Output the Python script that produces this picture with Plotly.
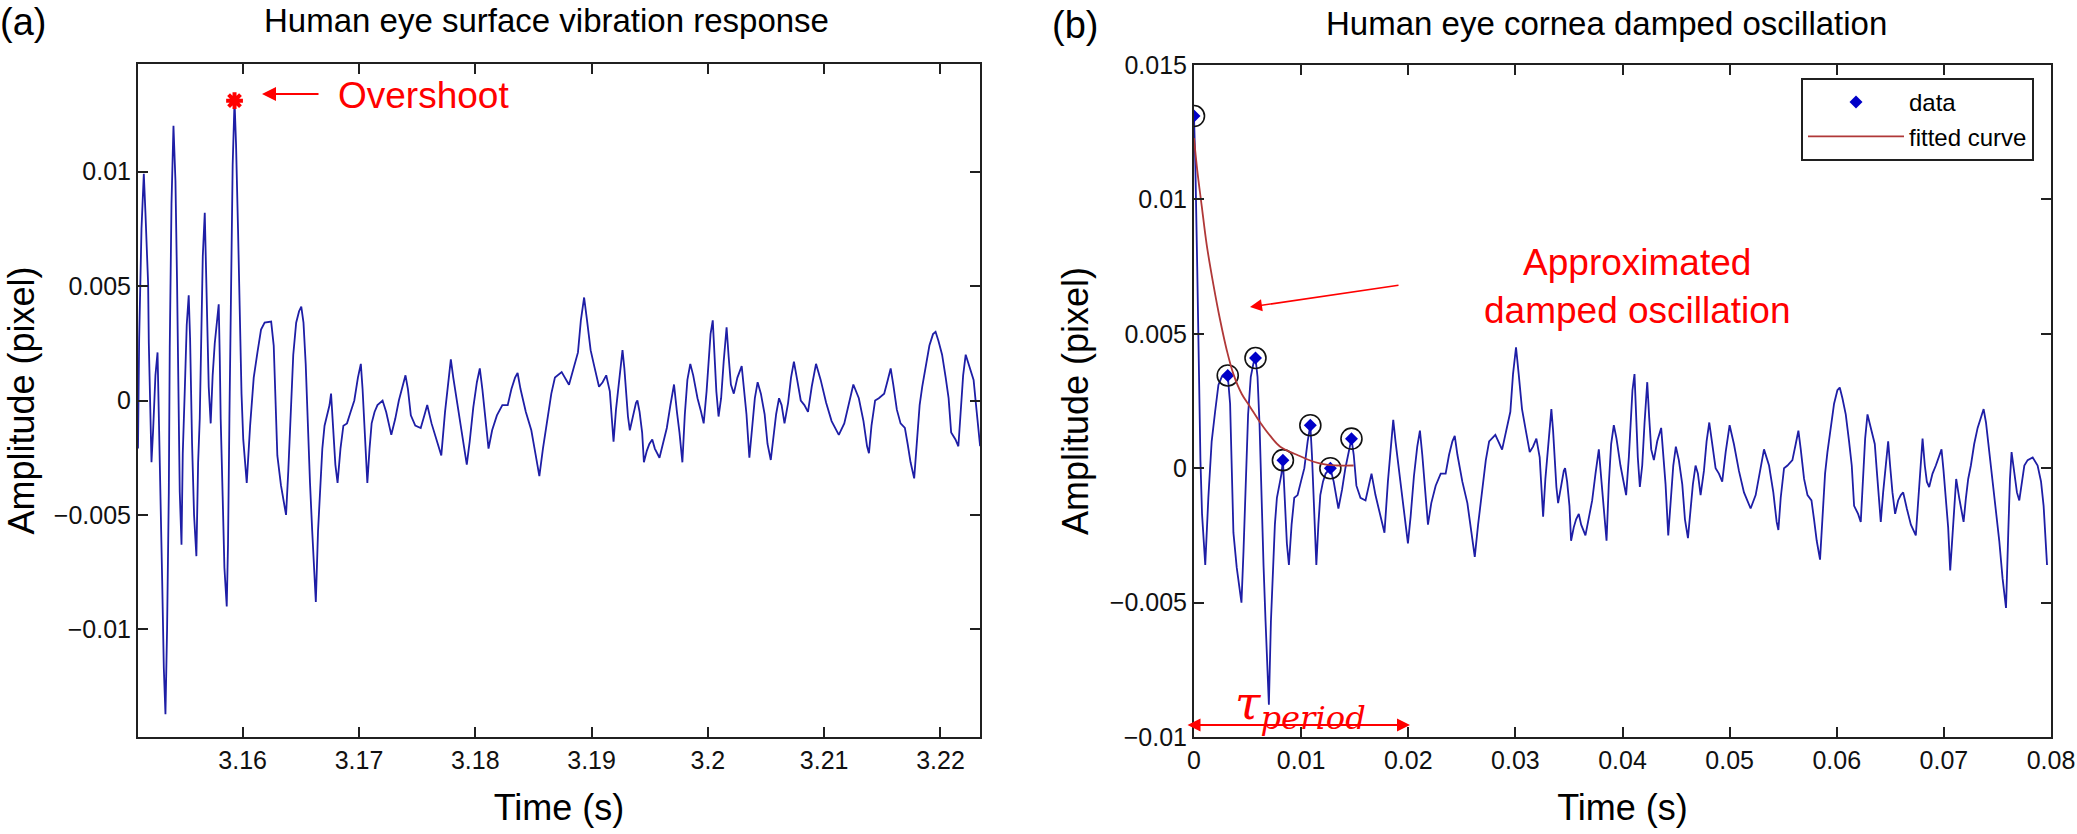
import plotly.graph_objects as go

W, H = 2077, 834

# ---------------- data ----------------
# Panel (a): samples before the overshoot (absolute time, s)
PRE_T = [3.15100, 3.15110, 3.15130, 3.15150, 3.15164, 3.15187, 3.15193, 3.15207, 3.15216,
         3.15230, 3.15250, 3.15268, 3.15279, 3.15293, 3.15308, 3.15322, 3.15336, 3.15350,
         3.15365, 3.15373, 3.15388, 3.15405, 3.15422, 3.15436, 3.15445, 3.15459, 3.15474,
         3.15485, 3.15502, 3.15519, 3.15536, 3.15548, 3.15565, 3.15582, 3.15602, 3.15617,
         3.15631, 3.15645, 3.15657, 3.15674, 3.15685, 3.15697, 3.15708, 3.15725, 3.15742,
         3.15760, 3.15780, 3.15794, 3.15803, 3.15811, 3.15828, 3.15843, 3.15863, 3.15874,
         3.15886, 3.15900, 3.15914]
PRE_Y = [-0.0021, 0.0027, 0.0075, 0.0099, 0.0082, 0.0051, 0.0025, -0.0011, -0.0027,
         -0.0013, 0.0011, 0.0021, -0.0004, -0.0038, -0.0079, -0.0117, -0.0137, -0.0100,
         -0.0040, 0.0023, 0.0086, 0.0120, 0.0096, 0.0051, 0.0004, -0.0040, -0.0063,
         -0.0023, 0.0004, 0.0033, 0.0046, 0.0027, -0.0019, -0.0050, -0.0068, -0.0027,
         -0.0008, 0.0027, 0.0063, 0.0082, 0.0061, 0.0033, 0.0006, -0.0010, 0.0011,
         0.0025, 0.0034, 0.0042, 0.0019, -0.0008, -0.0042, -0.0073, -0.0090, -0.0063,
         -0.0008, 0.0048, 0.0103]

# Time of the overshoot in panel (a) = time zero of panel (b)
T_OVERSHOOT = 3.1593

# Samples from the overshoot onwards (time relative to the overshoot, s)
POST_T = [0.0, 0.00013, 0.0003, 0.00045, 0.0006, 0.00075, 0.0009, 0.00105, 0.00134, 0.00165,
          0.00197, 0.00228, 0.00259, 0.00315, 0.00337, 0.00353, 0.00368, 0.00399, 0.00424, 0.00443,
          0.00462, 0.00484, 0.00505, 0.0053, 0.00555, 0.00574, 0.00593, 0.00612, 0.0063, 0.00649,
          0.00668, 0.00686, 0.00699, 0.00718, 0.00736, 0.00755, 0.00774, 0.00799, 0.00817, 0.0083,
          0.00849, 0.00867, 0.00886, 0.00911, 0.00936, 0.00967, 0.00998, 0.0103, 0.01061, 0.01086,
          0.01101, 0.01123, 0.01142, 0.01161, 0.01179, 0.01204, 0.01229, 0.01273, 0.01304, 0.01348,
          0.01382, 0.01413, 0.01445, 0.0147, 0.01491, 0.01516, 0.01554, 0.01601, 0.01632, 0.01657,
          0.01694, 0.01741, 0.01778, 0.0181, 0.01841, 0.0186, 0.01881, 0.01928, 0.01966, 0.01997,
          0.02022, 0.02053, 0.02084, 0.02109, 0.02131, 0.02162, 0.02184, 0.02215, 0.02256, 0.02303,
          0.02349, 0.02381, 0.02412, 0.02434, 0.02459, 0.02505, 0.02552, 0.0259, 0.02621, 0.02652,
          0.02693, 0.02724, 0.02755, 0.02813, 0.02876, 0.02922, 0.02953, 0.02978, 0.03006, 0.03031,
          0.03062, 0.03093, 0.03134, 0.03165, 0.03196, 0.03227, 0.0324, 0.03259, 0.0328, 0.03302,
          0.03321, 0.03336, 0.03352, 0.03368, 0.03383, 0.03399, 0.03427, 0.03452, 0.03464, 0.03483,
          0.03505, 0.0352, 0.03545, 0.03567, 0.03592, 0.03614, 0.03654, 0.03685, 0.03717, 0.03748,
          0.03779, 0.03804, 0.03826, 0.03851, 0.03872, 0.03894, 0.03919, 0.03944, 0.03981, 0.04012,
          0.04034, 0.04059, 0.04075, 0.04093, 0.04112, 0.04128, 0.04143, 0.04162, 0.04184, 0.04206,
          0.04231, 0.04249, 0.04268, 0.04293, 0.04324, 0.04361, 0.0438, 0.04402, 0.04427, 0.04449,
          0.04474, 0.04498, 0.04526, 0.04558, 0.04583, 0.04611, 0.04636, 0.04657, 0.04682, 0.04704,
          0.04729, 0.0476, 0.04785, 0.0481, 0.04838, 0.04869, 0.049, 0.04931, 0.04963, 0.05,
          0.0504, 0.05087, 0.05134, 0.05196, 0.05243, 0.05283, 0.05321, 0.05368, 0.05408, 0.05439,
          0.05455, 0.05477, 0.05508, 0.0554, 0.05586, 0.05617, 0.05642, 0.05664, 0.05695, 0.05727,
          0.05764, 0.05788, 0.05813, 0.05844, 0.05866, 0.05891, 0.05913, 0.05944, 0.05975, 0.06006,
          0.06028, 0.06053, 0.06084, 0.06115, 0.0614, 0.06162, 0.06199, 0.06224, 0.06243, 0.06265,
          0.06287, 0.06312, 0.06333, 0.06355, 0.06374, 0.06396, 0.06411, 0.06433, 0.06458, 0.0648,
          0.06498, 0.0652, 0.06545, 0.06573, 0.06598, 0.0662, 0.06654, 0.06692, 0.06738, 0.06763,
          0.06785, 0.06801, 0.06822, 0.06841, 0.06863, 0.06894, 0.06925, 0.06956, 0.06978, 0.06997,
          0.07019, 0.0704, 0.07059, 0.07081, 0.07097, 0.07115, 0.07143, 0.07165, 0.07184, 0.07206,
          0.07227, 0.07252, 0.07283, 0.07315, 0.07346, 0.07371, 0.07393, 0.07424, 0.07455, 0.07486,
          0.07517, 0.07548, 0.0758, 0.07601, 0.07617, 0.07632, 0.07657, 0.07682, 0.07704, 0.07726,
          0.07751, 0.07782, 0.07829, 0.07875, 0.07907, 0.07931, 0.07947, 0.07963]
POST_Y = [0.0131, 0.0112, 0.0075, 0.0035, 0.0003, -0.0017, -0.0029, -0.0036, -0.0011, 0.0010,
          0.0021, 0.0031, 0.0034, 0.00345, 0.0024, 0.0000, -0.0024, -0.0037, -0.0044, -0.0050,
          -0.0031, -0.0005, 0.0020, 0.0034, 0.0039, 0.0041, 0.0034, 0.0016, -0.0011, -0.0036,
          -0.0057, -0.0075, -0.0088, -0.0057, -0.0037, -0.0021, -0.0011, -0.0005, -0.0002, 0.0003,
          -0.0011, -0.0028, -0.0036, -0.0021, -0.0011, -0.0010, -0.0005, 0.0000, 0.0010, 0.0016,
          0.0005, -0.0018, -0.0036, -0.0021, -0.0010, -0.0005, -0.0002, 0.0000, -0.0005, -0.0015,
          -0.0008, 0.0000, 0.00065, 0.0011, 0.0005, -0.00065, -0.0011, -0.0012, -0.00065, -0.0002,
          -0.0010, -0.0018, -0.0024, -0.0005, 0.0011, 0.0018, 0.0010, -0.0005, -0.0018, -0.0028,
          -0.0018, -0.0003, 0.0008, 0.0014, 0.0005, -0.0011, -0.0021, -0.0013, -0.00065, -0.0002,
          -0.0002, 0.0005, 0.0010, 0.0012, 0.0005, -0.0005, -0.0013, -0.0024, -0.0033, -0.0021,
          -0.0008, 0.0003, 0.0010, 0.00124, 0.00069, 0.0015, 0.0021, 0.0035, 0.0045, 0.0035,
          0.0022, 0.0015, 0.0006, 0.0008, 0.0011, 0.0004, -0.0004, -0.0018, -0.0004, 0.0006,
          0.0016, 0.0022, 0.0014, 0.0001, -0.0007, -0.0013, -0.0006, -0.0001, 0.0000, -0.0005,
          -0.0014, -0.0027, -0.0022, -0.0019, -0.0017, -0.0021, -0.0025, -0.0019, -0.0012, -0.0002,
          0.0007, -0.0005, -0.0014, -0.0027, -0.0006, 0.0009, 0.0016, 0.0011, 0.0001, -0.0005,
          -0.0010, 0.0004, 0.0017, 0.0029, 0.0035, 0.0019, 0.0004, -0.0007, 0.0001, 0.0017,
          0.0032, 0.0019, 0.0007, 0.0003, 0.0010, 0.0015, 0.0006, -0.0006, -0.0025, -0.0011,
          0.0001, 0.0008, 0.0003, -0.0006, -0.0019, -0.0026, -0.0014, -0.0006, 0.0001, -0.0002,
          -0.0010, -0.0001, 0.0010, 0.0017, 0.0009, 0.0000, -0.0002, -0.0005, 0.0006, 0.0016,
          0.0009, -0.0001, -0.0009, -0.0015, -0.0010, -0.0001, 0.0007, 0.0001, -0.0009, -0.0020,
          -0.0023, -0.0011, 0.0000, 0.0001, 0.0003, 0.0009, 0.0014, 0.0007, -0.0004, -0.0010,
          -0.0012, -0.0019, -0.0027, -0.0034, -0.0017, -0.0002, 0.0006, 0.0016, 0.0024, 0.0029,
          0.0030, 0.0026, 0.0020, 0.0010, 0.0001, -0.0014, -0.0017, -0.0020, -0.0005, 0.0011,
          0.0020, 0.0016, 0.0012, 0.0009, -0.0001, -0.0014, -0.0020, -0.0009, 0.0001, 0.0010,
          0.0001, -0.0009, -0.0017, -0.0012, -0.0010, -0.0009, -0.0015, -0.0021, -0.0025, -0.0011,
          0.0001, 0.0011, 0.0001, -0.0005, -0.0007, -0.0002, 0.0001, 0.0005, 0.0007, -0.0001,
          -0.0011, -0.0022, -0.0038, -0.0024, -0.0011, -0.0004, -0.0011, -0.0016, -0.0020, -0.0011,
          -0.0004, 0.0001, 0.0009, 0.0015, 0.0019, 0.0022, 0.0017, 0.0006, -0.0005, -0.0017,
          -0.0027, -0.0041, -0.0052, -0.0024, -0.0004, 0.0006, -0.0001, -0.0009, -0.0012, -0.0005,
          0.0001, 0.0003, 0.0004, 0.0001, -0.0005, -0.0014, -0.0023, -0.0036]

# Peaks used for the damping fit (panel b)
PEAK_T = [0.0, 0.00315, 0.00574, 0.0083, 0.01086, 0.01273, 0.0147]
PEAK_Y = [0.0131, 0.00345, 0.0041, 0.0003, 0.0016, 0.0000, 0.0011]

# Fitted decay curve
FIT_T = [0.0, 0.00031, 0.00072, 0.00119, 0.00181, 0.00243, 0.00306, 0.00368, 0.00446,
         0.00524, 0.00618, 0.00712, 0.00805, 0.0096, 0.01117, 0.0125, 0.01335, 0.0149]
FIT_Y = [0.01228, 0.01106, 0.00976, 0.0083, 0.00683, 0.00553, 0.00439, 0.0035, 0.00276,
         0.00228, 0.0017, 0.0012, 0.0008, 0.0005, 0.00024, 0.00012, 0.0001, 0.0001]

# Axis ticks
XA_TICKS = [3.16, 3.17, 3.18, 3.19, 3.20, 3.21, 3.22]
XA_LABELS = ["3.16", "3.17", "3.18", "3.19", "3.2", "3.21", "3.22"]
YA_TICKS = [-0.01, -0.005, 0.0, 0.005, 0.01]
YA_LABELS = ["\u22120.01", "\u22120.005", "0", "0.005", "0.01"]
XB_TICKS = [0.0, 0.01, 0.02, 0.03, 0.04, 0.05, 0.06, 0.07, 0.08]
XB_LABELS = ["0", "0.01", "0.02", "0.03", "0.04", "0.05", "0.06", "0.07", "0.08"]
YB_TICKS = [-0.01, -0.005, 0.0, 0.005, 0.01, 0.015]
YB_LABELS = ["\u22120.01", "\u22120.005", "0", "0.005", "0.01", "0.015"]

# ---------------- styling ----------------
FONT = "Liberation Sans, Arial, Helvetica, sans-serif"
BLUE = "#1e1ea6"
FIT_COLOR = "#b03838"
RED = "#ff0000"
AXC = "#202020"


def px(x):
    return x / W


def py(y):
    return 1 - y / H


fig = go.Figure()

# Panel (a) signal
a_t = PRE_T + [T_OVERSHOOT + t for t in POST_T]
a_y = PRE_Y + POST_Y
fig.add_trace(go.Scatter(x=a_t, y=a_y, mode="lines", line=dict(color=BLUE, width=1.8),
                         xaxis="x", yaxis="y", showlegend=False, hoverinfo="skip"))
fig.add_trace(go.Scatter(x=[T_OVERSHOOT], y=[POST_Y[0]], mode="markers",
                         marker=dict(symbol="asterisk-open", size=14, color=RED,
                                     line=dict(color=RED, width=4)),
                         xaxis="x", yaxis="y", showlegend=False))

# Panel (b) signal
fig.add_trace(go.Scatter(x=POST_T, y=POST_Y, mode="lines", line=dict(color=BLUE, width=1.8),
                         xaxis="x2", yaxis="y2", showlegend=False, hoverinfo="skip"))
fig.add_trace(go.Scatter(x=PEAK_T, y=PEAK_Y, mode="markers",
                         marker=dict(symbol="circle-open", size=21, color="#111111",
                                     line=dict(color="#111111", width=1.6)),
                         xaxis="x2", yaxis="y2", showlegend=False))
fig.add_trace(go.Scatter(x=PEAK_T, y=PEAK_Y, mode="markers", name="data",
                         marker=dict(symbol="diamond", size=10, color="#0000c8"),
                         xaxis="x2", yaxis="y2", showlegend=True))
fig.add_trace(go.Scatter(x=FIT_T, y=FIT_Y, mode="lines", name="fitted curve",
                         line=dict(color=FIT_COLOR, width=1.8, shape="spline"),
                         xaxis="x2", yaxis="y2", showlegend=True))

axis_common = dict(showline=True, linecolor=AXC, linewidth=2, mirror="allticks",
                   ticks="inside", ticklen=10, tickwidth=1.5, tickcolor=AXC,
                   showgrid=False, zeroline=False, automargin=False,
                   tickfont=dict(family=FONT, size=25, color="#111111"))

title_font = dict(family=FONT, size=36, color="#000000")

fig.update_layout(
    width=W, height=H,
    margin=dict(l=0, r=0, t=0, b=0),
    paper_bgcolor="white", plot_bgcolor="white",
    xaxis=dict(domain=[px(138), px(980)], range=[3.1510, 3.2234], anchor="y",
               tickvals=XA_TICKS, ticktext=XA_LABELS,
               title=dict(text="Time (s)", font=title_font, standoff=22), **axis_common),
    yaxis=dict(domain=[py(737), py(64)], range=[-0.0147, 0.0147], anchor="x",
               tickvals=YA_TICKS, ticktext=YA_LABELS,
               title=dict(text="Amplitude (pixel)", font=title_font, standoff=8), **axis_common),
    xaxis2=dict(domain=[px(1194), px(2051)], range=[0, 0.08], anchor="y2",
                tickvals=XB_TICKS, ticktext=XB_LABELS,
                title=dict(text="Time (s)", font=title_font, standoff=22), **axis_common),
    yaxis2=dict(domain=[py(737), py(65)], range=[-0.01, 0.015], anchor="x2",
                tickvals=YB_TICKS, ticktext=YB_LABELS,
                title=dict(text="Amplitude (pixel)", font=title_font, standoff=10), **axis_common),
    legend=dict(x=px(1801), y=py(78), xanchor="left", yanchor="top",
                bordercolor=AXC, borderwidth=2, bgcolor="white",
                font=dict(family=FONT, size=24, color="#000000"),
                itemwidth=96, tracegroupgap=0),
    showlegend=True,
)

ann = []
# panel labels and titles
ann.append(dict(text="(a)", x=px(23), y=py(22), xref="paper", yref="paper", showarrow=False,
                font=dict(family=FONT, size=38, color="#000000"), xanchor="center", yanchor="middle"))
ann.append(dict(text="(b)", x=px(1075), y=py(25), xref="paper", yref="paper", showarrow=False,
                font=dict(family=FONT, size=38, color="#000000"), xanchor="center", yanchor="middle"))
ann.append(dict(text="Human eye surface vibration response", x=px(546), y=py(21),
                xref="paper", yref="paper", showarrow=False,
                font=dict(family=FONT, size=33, color="#000000"), xanchor="center", yanchor="middle"))
ann.append(dict(text="Human eye cornea damped oscillation", x=px(1606), y=py(23),
                xref="paper", yref="paper", showarrow=False,
                font=dict(family=FONT, size=33, color="#000000"), xanchor="center", yanchor="middle"))
# Overshoot
ann.append(dict(text="Overshoot", x=px(336), y=py(96), xref="paper", yref="paper", showarrow=False,
                font=dict(family=FONT, size=37, color=RED), xanchor="left", yanchor="middle"))
ann.append(dict(text="", x=px(262), y=py(94), xref="paper", yref="paper", showarrow=True,
                ax=58, ay=0, arrowhead=2, arrowsize=1.4, arrowwidth=2, arrowcolor=RED, standoff=0))
# Approximated damped oscillation
ann.append(dict(text="Approximated<br>damped oscillation", x=px(1637), y=py(286),
                xref="paper", yref="paper", showarrow=False, align="center",
                font=dict(family=FONT, size=37, color=RED), xanchor="center", yanchor="middle"))
ann.append(dict(text="", x=px(1250), y=py(307), xref="paper", yref="paper", showarrow=True,
                ax=150, ay=-22, arrowhead=2, arrowsize=1.5, arrowwidth=1.6, arrowcolor=RED, standoff=0))
# tau period
ann.append(dict(text="<i>\u03c4</i><sub><i>period</i></sub>", x=px(1233), y=py(706),
                xref="paper", yref="paper", showarrow=False,
                font=dict(family="DejaVu Serif, Liberation Serif, serif", size=46, color=RED),
                xanchor="left", yanchor="middle"))
ann.append(dict(text="", x=px(1410), y=py(725), xref="paper", yref="paper", showarrow=True,
                ax=-224, ay=0, arrowhead=2, arrowside="end+start", arrowsize=1.3, arrowwidth=2,
                arrowcolor=RED, standoff=0, startstandoff=0))

fig.update_layout(annotations=ann)

fig.write_html("out.html")
